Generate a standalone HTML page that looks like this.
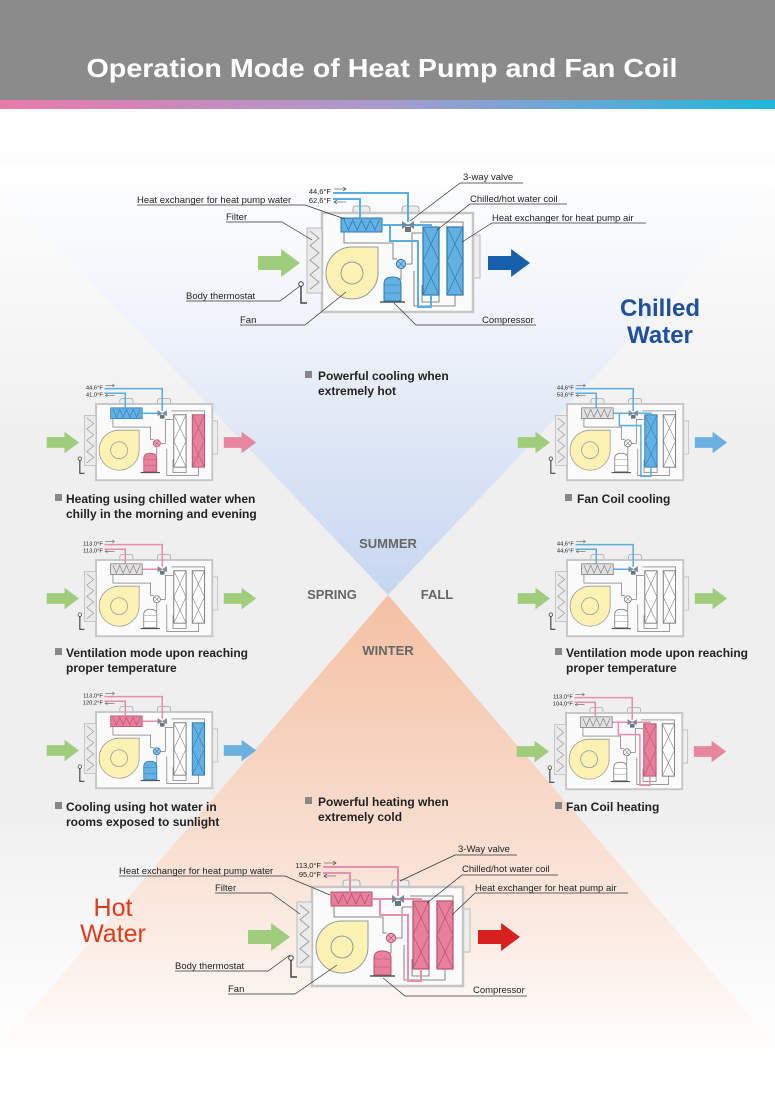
<!DOCTYPE html>
<html><head><meta charset="utf-8">
<style>
html,body{margin:0;padding:0;background:#fff;}
svg{display:block;font-family:"Liberation Sans",sans-serif;}
.lb{font-size:9.5px;fill:#222;}
.ld{stroke:#333;stroke-width:0.7;fill:none;}
.cap{font-size:12px;font-weight:bold;fill:#222;}
.sea{font-size:13px;font-weight:bold;fill:#666;}
</style></head>
<body>
<svg id="s" width="775" height="1093" viewBox="0 0 775 1093" xmlns="http://www.w3.org/2000/svg">
<defs>
<linearGradient id="hg" x1="0" x2="1" y1="0" y2="0">
<stop offset="0" stop-color="#e97aa9"/><stop offset="0.5" stop-color="#a89bd0"/><stop offset="1" stop-color="#1fb7dc"/></linearGradient>
<linearGradient id="bg" x1="0" x2="0" y1="0" y2="1">
<stop offset="0" stop-color="#ffffff"/><stop offset="0.12" stop-color="#fbfbfb"/><stop offset="0.35" stop-color="#efefef"/><stop offset="0.7" stop-color="#efefef"/><stop offset="0.92" stop-color="#fdfdfd"/><stop offset="1" stop-color="#ffffff"/></linearGradient>
<linearGradient id="blu" x1="0" x2="0" y1="165" y2="595" gradientUnits="userSpaceOnUse">
<stop offset="0" stop-color="#ffffff" stop-opacity="0.9"/><stop offset="0.4" stop-color="#eef2fa"/><stop offset="1" stop-color="#c6d6f0"/></linearGradient>
<linearGradient id="ora" x1="0" x2="0" y1="595" y2="1060" gradientUnits="userSpaceOnUse">
<stop offset="0" stop-color="#f4c0a3"/><stop offset="0.55" stop-color="#f9e0d2"/><stop offset="1" stop-color="#ffffff"/></linearGradient>
</defs>
<rect x="0" y="109" width="775" height="984" fill="url(#bg)"/>
<polygon points="-20,165 795,165 388,595" fill="url(#blu)"/>
<polygon points="388,595 -40,1093 816,1093" fill="url(#ora)"/>
<rect x="0" y="0" width="775" height="100" fill="#8b8b8b"/>
<rect x="0" y="100" width="775" height="9" fill="url(#hg)"/>
<text x="382" y="77" text-anchor="middle" font-size="26" font-weight="bold" fill="#fff" textLength="591" lengthAdjust="spacingAndGlyphs">Operation Mode of Heat Pump and Fan Coil</text>

<g id="units"></g>

<!-- season labels -->
<text class="sea" x="388" y="548" text-anchor="middle">SUMMER</text>
<text class="sea" x="332" y="599" text-anchor="middle">SPRING</text>
<text class="sea" x="437" y="599" text-anchor="middle">FALL</text>
<text class="sea" x="388" y="655" text-anchor="middle">WINTER</text>

<text x="660" y="316" text-anchor="middle" font-size="24" font-weight="bold" fill="#1f4f9f">Chilled</text>
<text x="660" y="343" text-anchor="middle" font-size="24" font-weight="bold" fill="#1f4f9f">Water</text>
<text x="113" y="916" text-anchor="middle" font-size="25" fill="#e03a1a">Hot</text>
<text x="113" y="942" text-anchor="middle" font-size="25" fill="#e03a1a">Water</text>

<!-- captions -->
<g>
<rect x="305" y="371" width="7" height="7" fill="#888"/><text class="cap" x="318" y="380">Powerful cooling when</text><text class="cap" x="318" y="395">extremely hot</text>
<rect x="55" y="494" width="7" height="7" fill="#888"/><text class="cap" x="66" y="503">Heating using chilled water when</text><text class="cap" x="66" y="518">chilly in the morning and evening</text>
<rect x="565" y="494" width="7" height="7" fill="#888"/><text class="cap" x="577" y="503">Fan Coil cooling</text>
<rect x="55" y="648" width="7" height="7" fill="#888"/><text class="cap" x="66" y="657">Ventilation mode upon reaching</text><text class="cap" x="66" y="672">proper temperature</text>
<rect x="555" y="648" width="7" height="7" fill="#888"/><text class="cap" x="566" y="657">Ventilation mode upon reaching</text><text class="cap" x="566" y="672">proper temperature</text>
<rect x="55" y="802" width="7" height="7" fill="#888"/><text class="cap" x="66" y="811">Cooling using hot water in</text><text class="cap" x="66" y="826">rooms exposed to sunlight</text>
<rect x="555" y="802" width="7" height="7" fill="#888"/><text class="cap" x="566" y="811">Fan Coil heating</text>
<rect x="305" y="797" width="7" height="7" fill="#888"/><text class="cap" x="318" y="806">Powerful heating when</text><text class="cap" x="318" y="821">extremely cold</text>
</g>

<!-- top unit labels -->
<g>
<text class="lb" x="463" y="180">3-way valve</text><path class="ld" d="M523,183 H460 L410,221"/>
<text class="lb" x="137" y="203">Heat exchanger for heat pump water</text><path class="ld" d="M137,205 H305 L345,219"/>
<text class="lb" x="470" y="202">Chilled/hot water coil</text><path class="ld" d="M567,204 H470 L437,230"/>
<text class="lb" x="492" y="221">Heat exchanger for heat pump air</text><path class="ld" d="M646,223 H492 L462,242"/>
<text class="lb" x="226" y="220">Filter</text><path class="ld" d="M226,222 H282 L312,240"/>
<text class="lb" x="186" y="299">Body thermostat</text><path class="ld" d="M186,301 H280 L300,286"/>
<text class="lb" x="240" y="323">Fan</text><path class="ld" d="M240,325 H305 L346,292"/>
<text class="lb" x="482" y="323">Compressor</text><path class="ld" d="M536,325 H416 L394,303"/>
</g>
<!-- bottom unit labels -->
<g>
<text class="lb" x="458" y="852">3-Way valve</text><path class="ld" d="M517,855 H455 L400,881"/>
<text class="lb" x="119" y="874">Heat exchanger for heat pump water</text><path class="ld" d="M119,876 H285 L330,895"/>
<text class="lb" x="462" y="872">Chilled/hot water coil</text><path class="ld" d="M558,875 H462 L427,903"/>
<text class="lb" x="475" y="891">Heat exchanger for heat pump air</text><path class="ld" d="M628,893 H475 L452,915"/>
<text class="lb" x="215" y="891">Filter</text><path class="ld" d="M215,893 H271 L300,914"/>
<text class="lb" x="175" y="969">Body thermostat</text><path class="ld" d="M175,971 H268 L290,955"/>
<text class="lb" x="228" y="992">Fan</text><path class="ld" d="M228,994 H295 L337,965"/>
<text class="lb" x="473" y="993">Compressor</text><path class="ld" d="M527,996 H405 L383,978"/>
</g>
</svg>
<script>
var C={b:['#62b1e2','#2f79b0'],p:['#e6809c','#b9506e'],w:['#ffffff','#777'],g:['#e2e2e2','#777']};
var P={b:'#5aaee0',p:'#ea8fab'};
function coil(x,c){var f=C[c];return '<rect x="'+x+'" y="14" width="16" height="68" fill="'+f[0]+'" stroke="'+f[1]+'" stroke-width="1.2"/><path d="M'+x+',14 L'+(x+16)+',48 L'+x+',82 M'+(x+16)+',14 L'+x+',48 L'+(x+16)+',82" stroke="'+f[1]+'" stroke-width="0.7" fill="none"/>';}
function arrow(x1,x2,col){var w=x2-x1,b=x1+w*0.55;return '<polygon points="'+x1+',43 '+b+',43 '+b+',36 '+x2+',50 '+b+',64 '+b+',57 '+x1+',57" fill="'+col+'"/>';}
function unit(u){
 var s='<g transform="translate('+u.x+','+u.y+') scale('+u.s+')">';
 s+=arrow(-64,-22,'#9fcd7c')+arrow(166,208,u.out);
 s+='<path d="M31,1 v-5 q0,-3 3,-3 h11 q3,0 3,3 v5 M80,1 v-5 q0,-3 3,-3 h11 q3,0 3,3 v5" fill="#eee" stroke="#999" stroke-width="0.8"/>';
 s+='<rect x="151" y="22" width="7" height="43" fill="#eee" stroke="#bbb"/>';
 s+='<rect x="0" y="0" width="151" height="99" fill="#fbfbfb" stroke="#c6c6c6" stroke-width="2.5"/>';
 s+='<rect x="-15" y="15" width="15" height="65" fill="#ebebeb" stroke="#bbb"/>';
 var z='';for(var i=0;i<=8;i++){z+=(i%2?-3:-12)+','+(18+i*7.3)+' ';}
 s+='<polyline points="'+z+'" fill="none" stroke="#999" stroke-width="0.9"/>';
 s+='<circle cx="-21" cy="71" r="2.3" fill="#fff" stroke="#444"/><path d="M-21,73 V90 H-15" stroke="#444" stroke-width="1.5" fill="none"/>';
 s+='<path d="M22,19 V30 H71 V46 H75 M84,51 H90 V20 H100 M79,56 V66 H77 M141,14 V9 H98 M133,82 V93 H92 V58 M117,82 V89 H100 V72" stroke="#666" stroke-width="0.8" fill="none"/>';
 s+='<path d="M56,34 L30,34 A26,26 0 1,0 56,60 Z" fill="#fbf2b4" stroke="#999"/><circle cx="30" cy="60" r="11" fill="none" stroke="#999"/>';
 var cc=C[u.comp];
 s+='<path d="M62,88 V71 Q62,64 70.5,64 Q79,64 79,71 V88 Z" fill="'+cc[0]+'" stroke="'+cc[1]+'"/><path d="M62,72 H79 M62,80 H79" stroke="'+cc[1]+'" stroke-width="0.5"/><path d="M58,89 H83" stroke="#555" stroke-width="1.5"/>';
 var vc=u.comp=='w'?['#fff','#777']:[u.comp=='b'?'#8cc6ea':'#f2a5bb',cc[1]];
 s+='<circle cx="79" cy="51" r="4.6" fill="'+vc[0]+'" stroke="'+vc[1]+'"/><path d="M76,48 L82,54 M82,48 L76,54" stroke="'+vc[1]+'" stroke-width="0.7"/>';
 s+=coil(101,u.c1)+coil(125,u.c2);
 var hc=C[u.hex];
 s+='<rect x="19" y="5" width="41" height="14" fill="'+hc[0]+'" stroke="'+hc[1]+'"/>';
 z='';for(i=0;i<=8;i++){z+=(22+i*4.4)+','+(i%2?17:7)+' ';}
 s+='<polyline points="'+z+'" fill="none" stroke="'+hc[1]+'" stroke-width="0.8"/>';
 var pc=P[u.pipe];
 var pd='M11,-20 H86 V9 M11,-14 H38 V5 M60,12 H86';
 if(u.full)pd+=' M60,12 H68 V28 H96 V94 H109 V82 M86,12 H109 V14';
 s+='<path d="'+pd+'" stroke="'+pc+'" stroke-width="2" fill="none"/>';
 s+='<polygon points="80,8 86,12 80,16" fill="#7a8a9a"/><polygon points="92,8 86,12 92,16" fill="#7a8a9a"/><rect x="83" y="14" width="6" height="5" fill="#6b7480"/>';
 s+='<text x="9" y="-19" text-anchor="end" font-size="7.5" fill="#222">'+u.t[0]+'</text><text x="9" y="-10" text-anchor="end" font-size="7.5" fill="#222">'+u.t[1]+'</text>';
 s+='<path d="M12,-24 H24 M21,-26 L24,-24 L21,-22 M12,-11 H24 M15,-13 L12,-11 L15,-9" stroke="#333" stroke-width="0.6" fill="none"/>';
 return s+'</g>';}
var U=[
{x:322,y:213,s:1,hex:'b',c1:'b',c2:'b',comp:'b',pipe:'b',full:1,out:'#1560a8',t:['44,6°F','62,6°F']},
{x:96,y:404,s:.77,hex:'b',c1:'w',c2:'p',comp:'p',pipe:'b',full:0,out:'#e8869e',t:['44,6°F','41,0°F']},
{x:567,y:404,s:.77,hex:'g',c1:'b',c2:'w',comp:'w',pipe:'b',full:1,out:'#6cb0e0',t:['44,6°F','53,6°F']},
{x:96,y:560,s:.77,hex:'g',c1:'w',c2:'w',comp:'w',pipe:'p',full:0,out:'#9fcd7c',t:['113,0°F','113,0°F']},
{x:567,y:560,s:.77,hex:'g',c1:'w',c2:'w',comp:'w',pipe:'b',full:0,out:'#9fcd7c',t:['44,6°F','44,6°F']},
{x:96,y:712,s:.77,hex:'p',c1:'w',c2:'b',comp:'b',pipe:'p',full:0,out:'#6cb0e0',t:['113,0°F','120,2°F']},
{x:566,y:713,s:.77,hex:'g',c1:'p',c2:'w',comp:'w',pipe:'p',full:1,out:'#e8869e',t:['113,0°F','104,0°F']},
{x:312,y:887,s:1,hex:'p',c1:'p',c2:'p',comp:'p',pipe:'p',full:1,out:'#d8201e',t:['113,0°F','95,0°F']}];
var h='';U.forEach(function(u){h+=unit(u);});
document.getElementById('units').innerHTML=h;
</script>
</body></html>
